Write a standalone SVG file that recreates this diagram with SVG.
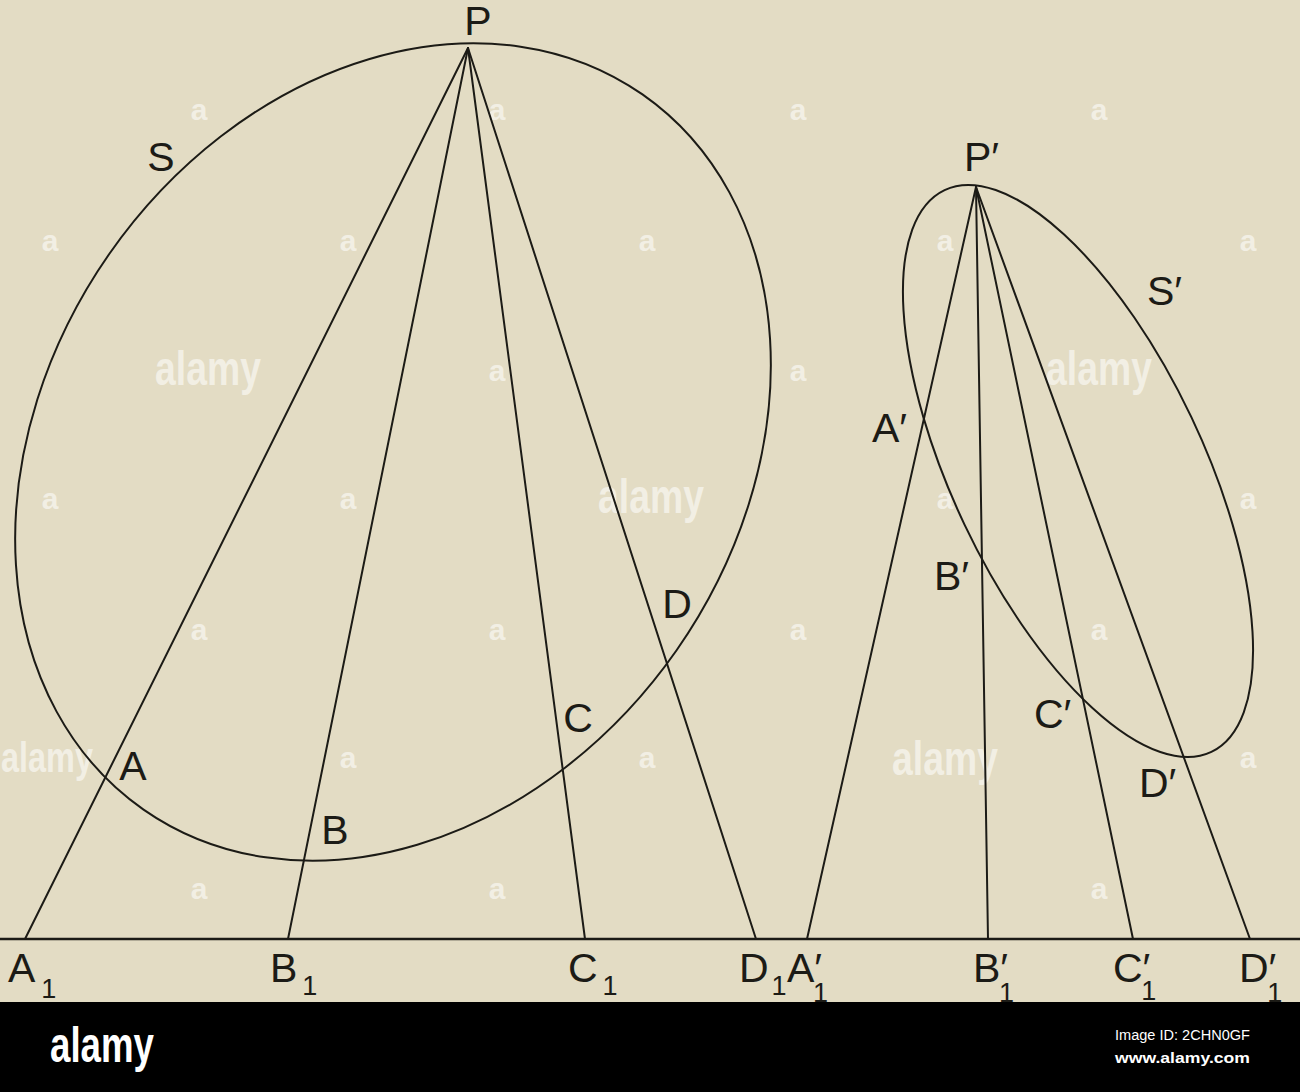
<svg xmlns="http://www.w3.org/2000/svg" width="1300" height="1092" viewBox="0 0 1300 1092">
  <style>
    .ln { stroke: #1c1b16; stroke-width: 2; fill: none; stroke-linecap: round; }
    .base { stroke: #1c1b16; stroke-width: 2.6; fill: none; }
    .lbl { font-family: "Liberation Sans", Arial, sans-serif; font-size: 41px; fill: #1c1b16; }
    .sub { font-size: 27px; }
    .wm { font-family: "Liberation Sans Narrow", "Liberation Sans", Arial, sans-serif; font-weight: bold; fill: #ffffff; opacity: 0.55; }
    .bar { font-family: "Liberation Sans Narrow", "Liberation Sans", Arial, sans-serif; fill: #ffffff; }
  </style>
  <rect x="0" y="0" width="1300" height="1092" fill="#e3dcc4"/>

  <!-- watermarks -->
  <g id="watermarks">
    <text class="wm" x="155" y="385" textLength="106" lengthAdjust="spacingAndGlyphs" font-size="48">alamy</text>
    <text class="wm" x="598" y="513" textLength="106" lengthAdjust="spacingAndGlyphs" font-size="48">alamy</text>
    <text class="wm" x="1046" y="385" textLength="106" lengthAdjust="spacingAndGlyphs" font-size="48">alamy</text>
    <text class="wm" x="1" y="772" textLength="92" lengthAdjust="spacingAndGlyphs" font-size="42">alamy</text>
    <text class="wm" x="892" y="775" textLength="106" lengthAdjust="spacingAndGlyphs" font-size="48">alamy</text>
    <g text-anchor="middle">
      <text class="wm" x="199" y="120" font-size="30">a</text>
      <text class="wm" x="497" y="120" font-size="30">a</text>
      <text class="wm" x="798" y="120" font-size="30">a</text>
      <text class="wm" x="1099" y="120" font-size="30">a</text>
      <text class="wm" x="50" y="251" font-size="30">a</text>
      <text class="wm" x="348" y="251" font-size="30">a</text>
      <text class="wm" x="647" y="251" font-size="30">a</text>
      <text class="wm" x="945" y="251" font-size="30">a</text>
      <text class="wm" x="1248" y="251" font-size="30">a</text>
      <text class="wm" x="497" y="381" font-size="30">a</text>
      <text class="wm" x="798" y="381" font-size="30">a</text>
      <text class="wm" x="50" y="509" font-size="30">a</text>
      <text class="wm" x="348" y="509" font-size="30">a</text>
      <text class="wm" x="945" y="509" font-size="30">a</text>
      <text class="wm" x="1248" y="509" font-size="30">a</text>
      <text class="wm" x="199" y="640" font-size="30">a</text>
      <text class="wm" x="497" y="640" font-size="30">a</text>
      <text class="wm" x="798" y="640" font-size="30">a</text>
      <text class="wm" x="1099" y="640" font-size="30">a</text>
      <text class="wm" x="348" y="768" font-size="30">a</text>
      <text class="wm" x="647" y="768" font-size="30">a</text>
      <text class="wm" x="1248" y="768" font-size="30">a</text>
      <text class="wm" x="199" y="899" font-size="30">a</text>
      <text class="wm" x="497" y="899" font-size="30">a</text>
      <text class="wm" x="1099" y="899" font-size="30">a</text>
    </g>
  </g>

  <!-- conics -->
  <g id="S">
    <ellipse class="ln" cx="393" cy="452" rx="436" ry="346" transform="rotate(-55.1 393 452)"/>
  </g>
  <g id="S-prime">
    <ellipse class="ln" cx="1078" cy="471" rx="311" ry="125.5" transform="rotate(64.6 1078 471)"/>
  </g>

  <!-- connectors -->
  <g id="connectors">
    <line class="base" x1="0" y1="939" x2="1300" y2="939"/>
    <line class="ln" x1="468" y1="48" x2="25" y2="939"/>
    <line class="ln" x1="468" y1="48" x2="288" y2="939"/>
    <line class="ln" x1="468" y1="48" x2="585" y2="939"/>
    <line class="ln" x1="468" y1="48" x2="756" y2="939"/>
    <line class="ln" x1="976" y1="187" x2="807" y2="939"/>
    <line class="ln" x1="976" y1="187" x2="988" y2="939"/>
    <line class="ln" x1="976" y1="187" x2="1133" y2="939"/>
    <line class="ln" x1="976" y1="187" x2="1250" y2="939"/>
  </g>

  <!-- labels -->
  <g id="label-P"><text class="lbl" x="478" y="35" text-anchor="middle" font-size="38">P</text></g>
  <g id="label-S"><text class="lbl" x="161" y="171" text-anchor="middle">S</text></g>
  <g id="label-A"><text class="lbl" x="133" y="780" text-anchor="middle">A</text></g>
  <g id="label-B"><text class="lbl" x="335" y="844" text-anchor="middle">B</text></g>
  <g id="label-C"><text class="lbl" x="578" y="732" text-anchor="middle">C</text></g>
  <g id="label-D"><text class="lbl" x="677" y="618" text-anchor="middle">D</text></g>

  <g id="label-Pp"><text class="lbl" x="964" y="171">P′</text></g>
  <g id="label-Sp"><text class="lbl" x="1147" y="305">S′</text></g>
  <g id="label-Ap"><text class="lbl" x="872" y="442">A′</text></g>
  <g id="label-Bp"><text class="lbl" x="934" y="590">B′</text></g>
  <g id="label-Cp"><text class="lbl" x="1034" y="728">C′</text></g>
  <g id="label-Dp"><text class="lbl" x="1139" y="797">D′</text></g>

  <g id="label-A1"><text class="lbl" x="8" y="982">A<tspan class="sub" dx="6" dy="16">1</tspan></text></g>
  <g id="label-B1"><text class="lbl" x="270" y="982">B<tspan class="sub" dx="5" dy="13">1</tspan></text></g>
  <g id="label-C1"><text class="lbl" x="568" y="982">C<tspan class="sub" dx="5" dy="13">1</tspan></text></g>
  <g id="label-D1"><text class="lbl" x="739" y="982">D<tspan class="sub" dx="3" dy="13">1</tspan></text></g>
  <g id="label-Ap1"><text class="lbl" x="787" y="982">A′<tspan class="sub" dx="-9" dy="20">1</tspan></text></g>
  <g id="label-Bp1"><text class="lbl" x="973" y="982">B′<tspan class="sub" dx="-9" dy="20">1</tspan></text></g>
  <g id="label-Cp1"><text class="lbl" x="1113" y="982">C′<tspan class="sub" dx="-9" dy="18">1</tspan></text></g>
  <g id="label-Dp1"><text class="lbl" x="1239" y="982">D′<tspan class="sub" dx="-9" dy="20">1</tspan></text></g>

  <!-- bottom bar -->
  <g id="footer">
    <rect x="0" y="1002" width="1300" height="90" fill="#000000"/>
    <text class="bar" x="50" y="1062" font-size="50" font-weight="bold" textLength="104" lengthAdjust="spacingAndGlyphs">alamy</text>
    <text class="bar" x="1115" y="1040" font-size="14" textLength="135" lengthAdjust="spacingAndGlyphs">Image ID: 2CHN0GF</text>
    <text class="bar" x="1115" y="1063" font-size="15" font-weight="bold" textLength="135" lengthAdjust="spacingAndGlyphs">www.alamy.com</text>
  </g>
</svg>
